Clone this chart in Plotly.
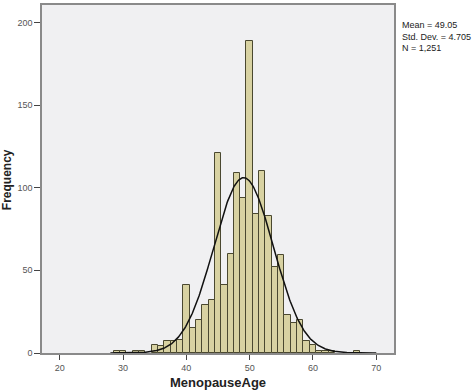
import numpy as np
import plotly.graph_objects as go

ages = [29, 30, 32, 33, 35, 36, 37, 38, 39, 40, 41, 42, 43, 44, 45, 46, 47, 48, 49,
        50, 51, 52, 53, 54, 55, 56, 57, 58, 59, 60, 61, 62, 63, 67]
counts = [1, 1, 1, 1, 5, 4, 7, 7, 8, 41, 15, 20, 29, 32, 121, 41, 60, 109, 94,
          189, 84, 110, 83, 52, 59, 23, 18, 20, 7, 5, 1, 1, 1, 1]
mean_val = 49.05
std_val = 4.705
n_val = 1251
x_ticks = [20, 30, 40, 50, 60, 70]
y_ticks = [0, 50, 100, 150, 200]

# fitted normal curve (bin width 1)
xc = np.linspace(28, 70, 400)
yc = n_val * 1.0 / (std_val * np.sqrt(2 * np.pi)) * np.exp(-0.5 * ((xc - mean_val) / std_val) ** 2)

fig = go.Figure()
fig.add_trace(go.Bar(
    x=ages, y=counts, width=1,
    marker=dict(color="#D8D2A2", line=dict(color="#4A4830", width=1)),
    showlegend=False, hoverinfo="x+y"))
fig.add_trace(go.Scatter(
    x=xc, y=yc, mode="lines", line=dict(color="#111111", width=1.5),
    showlegend=False, hoverinfo="skip"))

fig.update_layout(
    width=474, height=391,
    margin=dict(l=42, r=80, t=5, b=38, autoexpand=False),
    paper_bgcolor="white", plot_bgcolor="#F0F0F2",
    bargap=0,
    font=dict(family="Liberation Sans, Arial, sans-serif", size=9, color="#333333"),
    xaxis=dict(range=[17.2, 72.8], tickvals=x_ticks, ticks="outside", ticklen=5,
               tickcolor="#444444", showgrid=False, zeroline=False, automargin=False,
               showline=True, linecolor="#8A8A8A", linewidth=1.5, mirror=True,
               tickfont=dict(size=9, color="#555555")),
    yaxis=dict(range=[0, 210.5], tickvals=y_ticks, ticks="outside", ticklen=6,
               tickcolor="#444444", showgrid=False, zeroline=False, automargin=False,
               showline=True, linecolor="#8A8A8A", linewidth=1.5, mirror=True,
               tickfont=dict(size=9, color="#555555")),
    annotations=[
        dict(xref="paper", yref="paper", x=1.017, y=0.962, xanchor="left", yanchor="top",
             align="left", showarrow=False,
             text=f"Mean = {mean_val:.2f}<br>Std. Dev. = {std_val:.3f}<br>N = {n_val:,}",
             font=dict(size=9, color="#222222")),
        dict(xref="paper", yref="paper", x=0.5, y=-0.086, xanchor="center", yanchor="middle",
             showarrow=False, text="<b>MenopauseAge</b>",
             font=dict(size=13, color="#222222")),
        dict(xref="paper", yref="paper", x=-0.099, y=0.497, xanchor="center", yanchor="middle",
             showarrow=False, text="<b>Frequency</b>", textangle=-90,
             font=dict(size=12, color="#222222")),
    ],
)

fig.write_html("out.html", config={"displayModeBar": False},
               post_script="document.body.style.margin='0';document.body.style.padding='0';")
